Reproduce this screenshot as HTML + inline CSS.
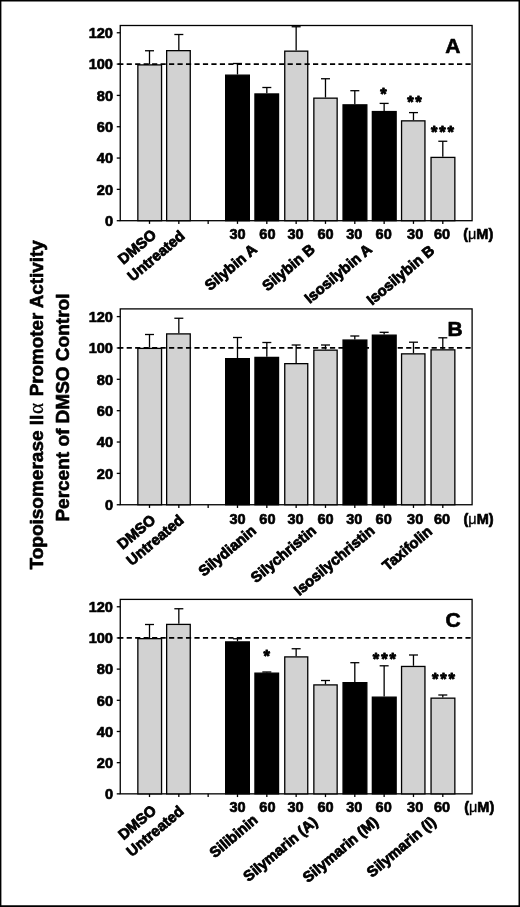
<!DOCTYPE html>
<html lang="en"><head><meta charset="utf-8"><title>Topoisomerase II&#945; Promoter Activity</title>
<style>html,body{margin:0;padding:0;background:#fff}body{width:520px;height:907px;overflow:hidden}svg{display:block}text{font-family:"Liberation Sans", Arial, Helvetica, sans-serif;font-weight:bold;fill:#000;stroke:#000;stroke-width:0.65px;stroke-linejoin:round}.lb{font-size:14.8px}.rl{stroke-width:0.8px}.tk{font-size:14.6px}.nb{font-size:14.5px}.pl{font-size:21px}.yt{font-size:19px}.st{font-size:16.5px;stroke-width:0.9px}.g{fill:#d2d2d2;stroke:#000;stroke-width:1.3}.k{fill:#000;stroke:#000;stroke-width:1.3}.ln{stroke:#000;stroke-width:1.3;fill:none}.fr{stroke:#000;stroke-width:1.3;fill:none}</style></head><body>
<svg width="520" height="907" viewBox="0 0 520 907">
<rect x="0" y="0" width="520" height="907" fill="#fff"/>
<path d="M0 0H520V907H0Z M1.4 1.4V905.2H518.5V1.4Z" fill="#000" fill-rule="evenodd"/>
<g>
<rect class="fr" x="120.25" y="25.50" width="351.85" height="195.20"/>
<line class="ln" x1="116.75" y1="220.70" x2="120.25" y2="220.70"/>
<text class="tk" text-anchor="end" x="113" y="225.95">0</text>
<line class="ln" x1="116.75" y1="189.38" x2="120.25" y2="189.38"/>
<text class="tk" text-anchor="end" x="113" y="194.63">20</text>
<line class="ln" x1="116.75" y1="158.05" x2="120.25" y2="158.05"/>
<text class="tk" text-anchor="end" x="113" y="163.30">40</text>
<line class="ln" x1="116.75" y1="126.73" x2="120.25" y2="126.73"/>
<text class="tk" text-anchor="end" x="113" y="131.98">60</text>
<line class="ln" x1="116.75" y1="95.41" x2="120.25" y2="95.41"/>
<text class="tk" text-anchor="end" x="113" y="100.66">80</text>
<line class="ln" x1="116.75" y1="64.08" x2="120.25" y2="64.08"/>
<text class="tk" text-anchor="end" x="113" y="69.33">100</text>
<line class="ln" x1="116.75" y1="32.76" x2="120.25" y2="32.76"/>
<text class="tk" text-anchor="end" x="113" y="38.01">120</text>
<line class="ln" x1="149.50" y1="220.70" x2="149.50" y2="223.90"/>
<line class="ln" x1="178.83" y1="220.70" x2="178.83" y2="223.90"/>
<line class="ln" x1="208.16" y1="220.70" x2="208.16" y2="223.90"/>
<line class="ln" x1="237.49" y1="220.70" x2="237.49" y2="223.90"/>
<line class="ln" x1="266.82" y1="220.70" x2="266.82" y2="223.90"/>
<line class="ln" x1="296.15" y1="220.70" x2="296.15" y2="223.90"/>
<line class="ln" x1="325.48" y1="220.70" x2="325.48" y2="223.90"/>
<line class="ln" x1="354.81" y1="220.70" x2="354.81" y2="223.90"/>
<line class="ln" x1="384.14" y1="220.70" x2="384.14" y2="223.90"/>
<line class="ln" x1="413.47" y1="220.70" x2="413.47" y2="223.90"/>
<line class="ln" x1="442.80" y1="220.70" x2="442.80" y2="223.90"/>
<line class="ln" x1="149.50" y1="64.25" x2="149.50" y2="50.75"/>
<line class="ln" x1="145.00" y1="50.75" x2="154.00" y2="50.75"/>
<rect class="g" x="137.85" y="64.90" width="23.70" height="155.80"/>
<line class="ln" x1="178.83" y1="50.00" x2="178.83" y2="34.50"/>
<line class="ln" x1="174.33" y1="34.50" x2="183.33" y2="34.50"/>
<rect class="g" x="166.65" y="50.65" width="23.60" height="170.05"/>
<line class="ln" x1="237.49" y1="74.50" x2="237.49" y2="63.50"/>
<line class="ln" x1="232.99" y1="63.50" x2="241.99" y2="63.50"/>
<rect class="k" x="225.65" y="75.15" width="23.70" height="145.55"/>
<line class="ln" x1="266.82" y1="93.30" x2="266.82" y2="87.50"/>
<line class="ln" x1="262.32" y1="87.50" x2="271.32" y2="87.50"/>
<rect class="k" x="254.95" y="93.95" width="23.60" height="126.75"/>
<line class="ln" x1="296.15" y1="50.50" x2="296.15" y2="26.75"/>
<line class="ln" x1="291.65" y1="26.75" x2="300.65" y2="26.75"/>
<rect class="g" x="284.75" y="51.15" width="23.00" height="169.55"/>
<line class="ln" x1="325.48" y1="97.50" x2="325.48" y2="78.75"/>
<line class="ln" x1="320.98" y1="78.75" x2="329.98" y2="78.75"/>
<rect class="g" x="313.85" y="98.15" width="23.30" height="122.55"/>
<line class="ln" x1="354.81" y1="104.20" x2="354.81" y2="90.70"/>
<line class="ln" x1="350.31" y1="90.70" x2="359.31" y2="90.70"/>
<rect class="k" x="343.05" y="104.85" width="23.80" height="115.85"/>
<line class="ln" x1="384.14" y1="110.90" x2="384.14" y2="103.40"/>
<line class="ln" x1="379.64" y1="103.40" x2="388.64" y2="103.40"/>
<rect class="k" x="372.35" y="111.55" width="23.80" height="109.15"/>
<line class="ln" x1="413.47" y1="120.20" x2="413.47" y2="112.60"/>
<line class="ln" x1="408.97" y1="112.60" x2="417.97" y2="112.60"/>
<rect class="g" x="401.55" y="120.85" width="23.40" height="99.85"/>
<line class="ln" x1="442.80" y1="156.75" x2="442.80" y2="141.25"/>
<line class="ln" x1="438.30" y1="141.25" x2="447.30" y2="141.25"/>
<rect class="g" x="431.05" y="157.40" width="23.80" height="63.30"/>
<line x1="118.20" y1="64.08" x2="472.10" y2="64.08" stroke="#000" stroke-width="1.8" stroke-dasharray="5.2 3.27"/>
<text class="pl" text-anchor="middle" x="452.90" y="53.00">A</text>
<text class="st" x="380.20" y="100.35">*</text>
<text class="st" x="407.20 415.20" y="107.85">**</text>
<text class="st" x="430.90 439.25 447.60" y="138.45">***</text>
<text class="nb" text-anchor="middle" x="237.59" y="239.40">30</text>
<text class="nb" text-anchor="middle" x="267.42" y="239.40">60</text>
<text class="nb" text-anchor="middle" x="295.45" y="239.40">30</text>
<text class="nb" text-anchor="middle" x="325.58" y="239.40">60</text>
<text class="nb" text-anchor="middle" x="354.21" y="239.40">30</text>
<text class="nb" text-anchor="middle" x="383.64" y="239.40">60</text>
<text class="nb" text-anchor="middle" x="415.17" y="239.40">30</text>
<text class="nb" text-anchor="middle" x="442.10" y="239.40">60</text>
<text class="nb" text-anchor="middle" x="478.20" y="239.40">(<tspan style="font-weight:normal;stroke-width:0.3px">&#956;</tspan>M)</text>
<text class="lb rl" text-anchor="end" transform="translate(157.30 236.40) rotate(-40)">DMSO</text>
<text class="lb rl" text-anchor="end" transform="translate(185.70 237.50) rotate(-40)">Untreated</text>
<text class="lb rl" text-anchor="end" transform="translate(258.00 251.00) rotate(-40)">Silybin A</text>
<text class="lb rl" text-anchor="end" transform="translate(316.00 251.00) rotate(-40)">Silybin B</text>
<text class="lb rl" text-anchor="end" transform="translate(373.00 251.00) rotate(-40)">Isosilybin A</text>
<text class="lb rl" text-anchor="end" transform="translate(435.50 252.25) rotate(-40)">Isosilybin B</text>
</g>
<g>
<rect class="fr" x="120.25" y="308.90" width="351.85" height="195.85"/>
<line class="ln" x1="116.75" y1="504.75" x2="120.25" y2="504.75"/>
<text class="tk" text-anchor="end" x="113" y="510.00">0</text>
<line class="ln" x1="116.75" y1="473.39" x2="120.25" y2="473.39"/>
<text class="tk" text-anchor="end" x="113" y="478.64">20</text>
<line class="ln" x1="116.75" y1="442.03" x2="120.25" y2="442.03"/>
<text class="tk" text-anchor="end" x="113" y="447.28">40</text>
<line class="ln" x1="116.75" y1="410.68" x2="120.25" y2="410.68"/>
<text class="tk" text-anchor="end" x="113" y="415.93">60</text>
<line class="ln" x1="116.75" y1="379.32" x2="120.25" y2="379.32"/>
<text class="tk" text-anchor="end" x="113" y="384.57">80</text>
<line class="ln" x1="116.75" y1="347.96" x2="120.25" y2="347.96"/>
<text class="tk" text-anchor="end" x="113" y="353.21">100</text>
<line class="ln" x1="116.75" y1="316.60" x2="120.25" y2="316.60"/>
<text class="tk" text-anchor="end" x="113" y="321.85">120</text>
<line class="ln" x1="149.50" y1="504.75" x2="149.50" y2="507.95"/>
<line class="ln" x1="178.83" y1="504.75" x2="178.83" y2="507.95"/>
<line class="ln" x1="208.16" y1="504.75" x2="208.16" y2="507.95"/>
<line class="ln" x1="237.49" y1="504.75" x2="237.49" y2="507.95"/>
<line class="ln" x1="266.82" y1="504.75" x2="266.82" y2="507.95"/>
<line class="ln" x1="296.15" y1="504.75" x2="296.15" y2="507.95"/>
<line class="ln" x1="325.48" y1="504.75" x2="325.48" y2="507.95"/>
<line class="ln" x1="354.81" y1="504.75" x2="354.81" y2="507.95"/>
<line class="ln" x1="384.14" y1="504.75" x2="384.14" y2="507.95"/>
<line class="ln" x1="413.47" y1="504.75" x2="413.47" y2="507.95"/>
<line class="ln" x1="442.80" y1="504.75" x2="442.80" y2="507.95"/>
<line class="ln" x1="149.50" y1="347.75" x2="149.50" y2="334.50"/>
<line class="ln" x1="145.00" y1="334.50" x2="154.00" y2="334.50"/>
<rect class="g" x="137.85" y="348.40" width="23.70" height="156.35"/>
<line class="ln" x1="178.83" y1="333.25" x2="178.83" y2="318.25"/>
<line class="ln" x1="174.33" y1="318.25" x2="183.33" y2="318.25"/>
<rect class="g" x="166.65" y="333.90" width="23.60" height="170.85"/>
<line class="ln" x1="237.49" y1="358.00" x2="237.49" y2="337.50"/>
<line class="ln" x1="232.99" y1="337.50" x2="241.99" y2="337.50"/>
<rect class="k" x="225.65" y="358.65" width="23.70" height="146.10"/>
<line class="ln" x1="266.82" y1="356.75" x2="266.82" y2="342.50"/>
<line class="ln" x1="262.32" y1="342.50" x2="271.32" y2="342.50"/>
<rect class="k" x="254.95" y="357.40" width="23.60" height="147.35"/>
<line class="ln" x1="296.15" y1="363.00" x2="296.15" y2="345.00"/>
<line class="ln" x1="291.65" y1="345.00" x2="300.65" y2="345.00"/>
<rect class="g" x="284.75" y="363.65" width="23.00" height="141.10"/>
<line class="ln" x1="325.48" y1="349.50" x2="325.48" y2="345.00"/>
<line class="ln" x1="320.98" y1="345.00" x2="329.98" y2="345.00"/>
<rect class="g" x="313.85" y="350.15" width="23.30" height="154.60"/>
<line class="ln" x1="354.81" y1="339.40" x2="354.81" y2="336.00"/>
<line class="ln" x1="350.31" y1="336.00" x2="359.31" y2="336.00"/>
<rect class="k" x="343.05" y="340.05" width="23.80" height="164.70"/>
<line class="ln" x1="384.14" y1="334.50" x2="384.14" y2="332.30"/>
<line class="ln" x1="379.64" y1="332.30" x2="388.64" y2="332.30"/>
<rect class="k" x="372.35" y="335.15" width="23.80" height="169.60"/>
<line class="ln" x1="413.47" y1="353.20" x2="413.47" y2="342.20"/>
<line class="ln" x1="408.97" y1="342.20" x2="417.97" y2="342.20"/>
<rect class="g" x="401.55" y="353.85" width="23.40" height="150.90"/>
<line class="ln" x1="442.80" y1="349.20" x2="442.80" y2="337.80"/>
<line class="ln" x1="438.30" y1="337.80" x2="447.30" y2="337.80"/>
<rect class="g" x="431.05" y="349.85" width="23.80" height="154.90"/>
<line x1="118.20" y1="347.96" x2="472.10" y2="347.96" stroke="#000" stroke-width="1.8" stroke-dasharray="5.2 3.27"/>
<text class="pl" text-anchor="middle" x="455.00" y="335.60">B</text>
<text class="nb" text-anchor="middle" x="237.59" y="523.95">30</text>
<text class="nb" text-anchor="middle" x="267.42" y="523.95">60</text>
<text class="nb" text-anchor="middle" x="295.45" y="523.95">30</text>
<text class="nb" text-anchor="middle" x="325.58" y="523.95">60</text>
<text class="nb" text-anchor="middle" x="354.21" y="523.95">30</text>
<text class="nb" text-anchor="middle" x="383.64" y="523.95">60</text>
<text class="nb" text-anchor="middle" x="415.17" y="523.95">30</text>
<text class="nb" text-anchor="middle" x="442.10" y="523.95">60</text>
<text class="nb" text-anchor="middle" x="478.50" y="523.95">(<tspan style="font-weight:normal;stroke-width:0.3px">&#956;</tspan>M)</text>
<text class="lb rl" text-anchor="end" transform="translate(156.50 521.50) rotate(-40)">DMSO</text>
<text class="lb rl" text-anchor="end" transform="translate(184.75 521.75) rotate(-40)">Untreated</text>
<text class="lb rl" text-anchor="end" transform="translate(257.20 532.20) rotate(-40)">Silydianin</text>
<text class="lb rl" text-anchor="end" transform="translate(317.20 532.20) rotate(-40)">Silychristin</text>
<text class="lb rl" text-anchor="end" transform="translate(375.60 532.20) rotate(-40)">Isosilychristin</text>
<text class="lb rl" text-anchor="end" transform="translate(433.20 533.00) rotate(-40)">Taxifolin</text>
</g>
<g>
<rect class="fr" x="120.25" y="599.40" width="351.85" height="194.45"/>
<line class="ln" x1="116.75" y1="793.85" x2="120.25" y2="793.85"/>
<text class="tk" text-anchor="end" x="113" y="799.10">0</text>
<line class="ln" x1="116.75" y1="762.67" x2="120.25" y2="762.67"/>
<text class="tk" text-anchor="end" x="113" y="767.92">20</text>
<line class="ln" x1="116.75" y1="731.49" x2="120.25" y2="731.49"/>
<text class="tk" text-anchor="end" x="113" y="736.74">40</text>
<line class="ln" x1="116.75" y1="700.31" x2="120.25" y2="700.31"/>
<text class="tk" text-anchor="end" x="113" y="705.56">60</text>
<line class="ln" x1="116.75" y1="669.12" x2="120.25" y2="669.12"/>
<text class="tk" text-anchor="end" x="113" y="674.37">80</text>
<line class="ln" x1="116.75" y1="637.94" x2="120.25" y2="637.94"/>
<text class="tk" text-anchor="end" x="113" y="643.19">100</text>
<line class="ln" x1="116.75" y1="606.76" x2="120.25" y2="606.76"/>
<text class="tk" text-anchor="end" x="113" y="612.01">120</text>
<line class="ln" x1="149.50" y1="793.85" x2="149.50" y2="797.05"/>
<line class="ln" x1="178.83" y1="793.85" x2="178.83" y2="797.05"/>
<line class="ln" x1="208.16" y1="793.85" x2="208.16" y2="797.05"/>
<line class="ln" x1="237.49" y1="793.85" x2="237.49" y2="797.05"/>
<line class="ln" x1="266.82" y1="793.85" x2="266.82" y2="797.05"/>
<line class="ln" x1="296.15" y1="793.85" x2="296.15" y2="797.05"/>
<line class="ln" x1="325.48" y1="793.85" x2="325.48" y2="797.05"/>
<line class="ln" x1="354.81" y1="793.85" x2="354.81" y2="797.05"/>
<line class="ln" x1="384.14" y1="793.85" x2="384.14" y2="797.05"/>
<line class="ln" x1="413.47" y1="793.85" x2="413.47" y2="797.05"/>
<line class="ln" x1="442.80" y1="793.85" x2="442.80" y2="797.05"/>
<line class="ln" x1="149.50" y1="638.00" x2="149.50" y2="624.50"/>
<line class="ln" x1="145.00" y1="624.50" x2="154.00" y2="624.50"/>
<rect class="g" x="137.85" y="638.65" width="23.70" height="155.20"/>
<line class="ln" x1="178.83" y1="623.75" x2="178.83" y2="608.75"/>
<line class="ln" x1="174.33" y1="608.75" x2="183.33" y2="608.75"/>
<rect class="g" x="166.65" y="624.40" width="23.60" height="169.45"/>
<line class="ln" x1="237.49" y1="641.25" x2="237.49" y2="638.75"/>
<line class="ln" x1="232.99" y1="638.75" x2="241.99" y2="638.75"/>
<rect class="k" x="225.65" y="641.90" width="23.70" height="151.95"/>
<line class="ln" x1="266.82" y1="672.50" x2="266.82" y2="672.00"/>
<line class="ln" x1="262.32" y1="672.00" x2="271.32" y2="672.00"/>
<rect class="k" x="254.95" y="673.15" width="23.60" height="120.70"/>
<line class="ln" x1="296.15" y1="656.25" x2="296.15" y2="648.75"/>
<line class="ln" x1="291.65" y1="648.75" x2="300.65" y2="648.75"/>
<rect class="g" x="284.75" y="656.90" width="23.00" height="136.95"/>
<line class="ln" x1="325.48" y1="684.25" x2="325.48" y2="680.50"/>
<line class="ln" x1="320.98" y1="680.50" x2="329.98" y2="680.50"/>
<rect class="g" x="313.85" y="684.90" width="23.30" height="108.95"/>
<line class="ln" x1="354.81" y1="682.00" x2="354.81" y2="662.70"/>
<line class="ln" x1="350.31" y1="662.70" x2="359.31" y2="662.70"/>
<rect class="k" x="343.05" y="682.65" width="23.80" height="111.20"/>
<line class="ln" x1="384.14" y1="696.50" x2="384.14" y2="665.80"/>
<line class="ln" x1="379.64" y1="665.80" x2="388.64" y2="665.80"/>
<rect class="k" x="372.35" y="697.15" width="23.80" height="96.70"/>
<line class="ln" x1="413.47" y1="665.80" x2="413.47" y2="655.00"/>
<line class="ln" x1="408.97" y1="655.00" x2="417.97" y2="655.00"/>
<rect class="g" x="401.55" y="666.45" width="23.40" height="127.40"/>
<line class="ln" x1="442.80" y1="697.50" x2="442.80" y2="695.00"/>
<line class="ln" x1="438.30" y1="695.00" x2="447.30" y2="695.00"/>
<rect class="g" x="431.05" y="698.15" width="23.80" height="95.70"/>
<line x1="118.20" y1="637.94" x2="472.10" y2="637.94" stroke="#000" stroke-width="1.8" stroke-dasharray="5.2 3.27"/>
<text class="pl" text-anchor="middle" x="453.00" y="626.70">C</text>
<text class="st" x="263.60" y="661.75">*</text>
<text class="st" x="372.70 381.15 389.60" y="664.95">***</text>
<text class="st" x="431.90 440.20 448.60" y="685.45">***</text>
<text class="nb" text-anchor="middle" x="237.59" y="812.05">30</text>
<text class="nb" text-anchor="middle" x="267.42" y="812.05">60</text>
<text class="nb" text-anchor="middle" x="295.45" y="812.05">30</text>
<text class="nb" text-anchor="middle" x="325.58" y="812.05">60</text>
<text class="nb" text-anchor="middle" x="354.21" y="812.05">30</text>
<text class="nb" text-anchor="middle" x="383.64" y="812.05">60</text>
<text class="nb" text-anchor="middle" x="415.17" y="812.05">30</text>
<text class="nb" text-anchor="middle" x="442.10" y="812.05">60</text>
<text class="nb" text-anchor="middle" x="479.20" y="812.05">(<tspan style="font-weight:normal;stroke-width:0.3px">&#956;</tspan>M)</text>
<text class="lb rl" text-anchor="end" transform="translate(157.40 812.00) rotate(-40)">DMSO</text>
<text class="lb rl" text-anchor="end" transform="translate(184.70 812.80) rotate(-40)">Untreated</text>
<text class="lb rl" text-anchor="end" transform="translate(258.80 821.50) rotate(-40)">Silibinin</text>
<text class="lb rl" text-anchor="end" transform="translate(318.50 823.50) rotate(-40)">Silymarin (A)</text>
<text class="lb rl" text-anchor="end" transform="translate(379.20 823.50) rotate(-40)">Silymarin (M)</text>
<text class="lb rl" text-anchor="end" transform="translate(437.00 823.50) rotate(-40)">Silymarin (I)</text>
</g>
<text class="yt" text-anchor="start" transform="translate(42.5 569.5) rotate(-90)">Topoisomerase II</text>
<text class="yt" style="font-size:21px;font-weight:normal;stroke-width:0.3px;font-family:&quot;Liberation Serif&quot;,serif" text-anchor="middle" transform="translate(42.5 408.6) rotate(-90)">&#945;</text>
<text class="yt" style="font-size:18.8px" text-anchor="end" transform="translate(42.5 240.4) rotate(-90)">Promoter Activity</text>
<text class="yt" text-anchor="middle" transform="translate(69.3 407.6) rotate(-90)">Percent of DMSO Control</text>
</svg></body></html>
